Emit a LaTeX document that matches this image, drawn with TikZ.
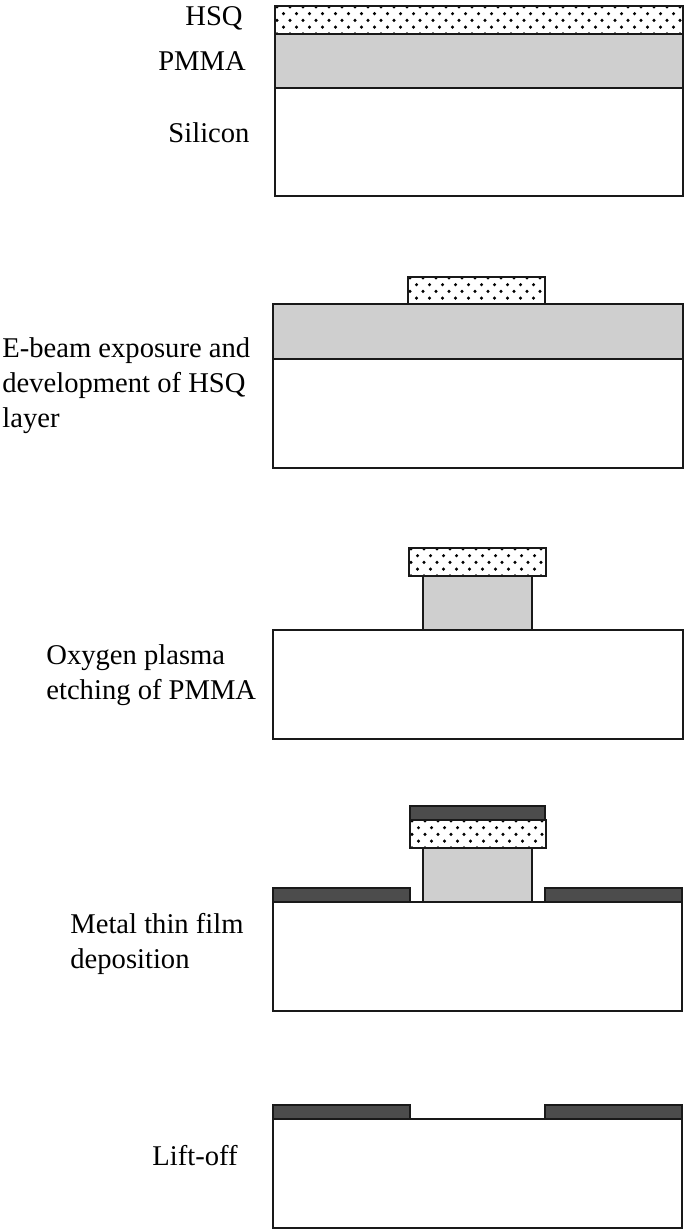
\documentclass[tikz,border=0pt]{standalone}
\usepackage{fontspec}
\setmainfont{Liberation Serif}
\definecolor{pmmagray}{gray}{0.81}
\definecolor{metalgray}{gray}{0.30}
\tikzset{
  layer/.style={draw=black!90,line width=1.1pt,fill=white},
  pmma/.style={layer,fill=pmmagray},
  metal/.style={layer,fill=metalgray},
  steplabel/.style={font=\fontsize{14.3}{17.5}\selectfont,align=left,inner sep=0pt}
}
% dotted HSQ layer: corner x, corner y, far x, far y
\newcommand{\hsqlayer}[4]{
  \begin{scope}
    \clip (#1,#2) rectangle (#3,#4);
    \foreach \row in {0,...,4}
      \foreach \col in {0,...,32} {
        \fill ({#1+2+13*\col+6.5*mod(\row,2)},{#2+1+6.7*\row}) circle (1.7);
      }
  \end{scope}
  \draw [layer,fill=none] (#1,#2) rectangle (#3,#4);
}
\begin{document}
\begin{tikzpicture}[x=0.5pt,y=-0.5pt]
  \useasboundingbox (0,0) rectangle (685,1229);
  % first stack
  \draw [layer] (275,88) rectangle (683,196);
  \draw [pmma] (275,34) rectangle (683,88);
  \hsqlayer{275}{6}{683}{34}
  \node [steplabel] (hsqlabel) at (214,18) {HSQ};
  \node [steplabel] (pmmalabel) at (202,61) {PMMA};
  \node [steplabel] (silabel) at (209,133) {Silicon};
  % exposure
  \draw [layer] (273,359) rectangle (683,468);
  \draw [pmma] (273,304) rectangle (683,359);
  \hsqlayer{408}{277}{545}{304}
  \node [steplabel,anchor=west] (exposelabel) at (2,386) {E-beam exposure and\\development of HSQ\\layer};
  % etching
  \draw [layer] (273,630) rectangle (683,739);
  \draw [pmma] (423,576) rectangle (532,630);
  \hsqlayer{409}{548}{546}{576}
  \node [steplabel,anchor=west] (etchlabel) at (46,675) {Oxygen plasma\\etching of PMMA};
  % deposition
  \draw [layer] (273,902) rectangle (682,1011);
  \draw [pmma] (423,848) rectangle (532,902);
  \hsqlayer{410}{820}{546}{848}
  \draw [metal] (410,806) rectangle (545,820);
  \draw [metal] (273,888) rectangle (410,902);
  \draw [metal] (545,888) rectangle (682,902);
  \node [steplabel,anchor=west] (metallabel) at (70,944) {Metal thin film\\deposition};
  % lift-off
  \draw [layer] (273,1119) rectangle (682,1228);
  \draw [metal] (273,1105) rectangle (410,1119);
  \draw [metal] (545,1105) rectangle (682,1119);
  \node [steplabel] (liftlabel) at (195,1156) {Lift-off};
\end{tikzpicture}
\end{document}
